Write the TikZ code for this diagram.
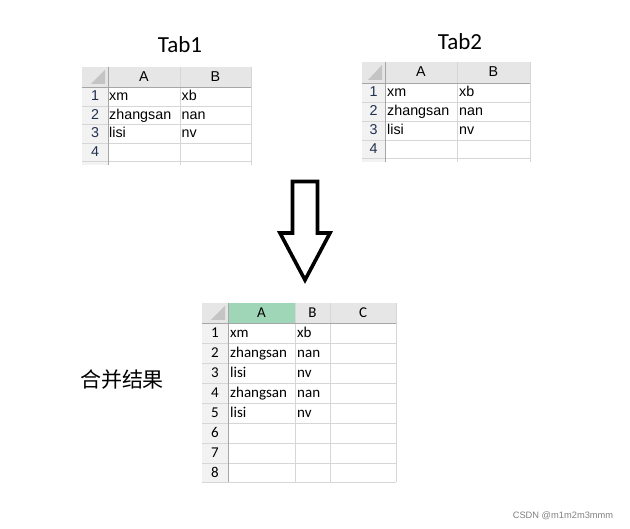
\documentclass[tikz,border=0pt]{standalone}
\usepackage{fontspec}
\setmainfont{Carlito}
\newfontfamily\cjkfont{Noto Sans CJK SC}
\newfontfamily\arialfont{Liberation Sans}
\definecolor{gridgray}{HTML}{D6D6D6}
\definecolor{headgray}{HTML}{E6E6E6}
\definecolor{sidegray}{HTML}{F2F2F2}
\definecolor{lingray}{HTML}{A6A6A6}
\definecolor{trigray}{HTML}{C4C4C4}
\definecolor{selgreen}{HTML}{A0D6B8}
\definecolor{numblue}{HTML}{203050}

\begin{document}
\begin{tikzpicture}[x=1pt,y=-1pt]
\tikzstyle{title}=[inner sep=0pt,font=\fontsize{23}{26}\selectfont]
\tikzstyle{cell}=[anchor=west,inner sep=0pt,yshift=-1.3pt,text height=1.5ex,text depth=.3ex,font=\arialfont\fontsize{14.3}{16}\selectfont]
\tikzstyle{cellb}=[anchor=west,inner sep=0pt,yshift=-1.3pt,text height=1.5ex,text depth=.3ex,font=\fontsize{15}{17}\selectfont]
\tikzstyle{head}=[inner sep=0pt,yshift=-1.3pt,text height=1.5ex,text depth=.3ex,font=\arialfont\fontsize{14.3}{16}\selectfont]
\tikzstyle{headb}=[inner sep=0pt,yshift=-1.3pt,text height=1.5ex,text depth=.3ex,font=\fontsize{15}{17}\selectfont]
\tikzstyle{grid}=[draw=gridgray,line width=0.8pt]
\tikzstyle{hline}=[draw=lingray,line width=0.8pt]
\useasboundingbox (0,0) rectangle (630,529);

% titles
\node[title] (tab1) at (180,45) {Tab1};
\node[title] (tab2) at (460,42) {Tab2};

% Tab1
\fill[headgray] (82,67) rectangle (251,87);
\fill[sidegray] (82,87) rectangle (108,165);
\fill[trigray] (105,70) -- (105,84) -- (91,84) -- cycle;
\foreach \y in {87,106,124.5,143,161.5} \draw[grid] (82,\y) -- (251,\y);
\foreach \x in {180,251} \draw[grid] (\x,67) -- (\x,165);
\draw[hline] (82,87) -- (251,87);
\draw[hline] (108,67) -- (108,165);
\node[head] (t1A) at (144,77) {A};
\node[head] (t1B) at (215.5,77) {B};
\foreach \n/\y in {1/96.5,2/115.25,3/133.75,4/152.25}
  \node[head,text=numblue] (t1r\n) at (95,\y) {\n};
\node[cell] (t1a1) at (109,96.5) {xm};
\node[cell] (t1b1) at (181.5,96.5) {xb};
\node[cell] (t1a2) at (109,115.25) {zhangsan};
\node[cell] (t1b2) at (181.5,115.25) {nan};
\node[cell] (t1a3) at (109,133.75) {lisi};
\node[cell] (t1b3) at (181.5,133.75) {nv};

% Tab2
\fill[headgray] (362,62) rectangle (530,83);
\fill[sidegray] (362,83) rectangle (385,162);
\fill[trigray] (382,65) -- (382,80) -- (368,80) -- cycle;
\foreach \y in {83,102,121,140,158} \draw[grid] (362,\y) -- (530,\y);
\foreach \x in {457,530} \draw[grid] (\x,62) -- (\x,162);
\draw[hline] (362,83) -- (530,83);
\draw[hline] (385,62) -- (385,162);
\node[head] (t2A) at (421,72.5) {A};
\node[head] (t2B) at (493.5,72.5) {B};
\foreach \n/\y in {1/92.5,2/111.5,3/130.5,4/149}
  \node[head,text=numblue] (t2r\n) at (373.5,\y) {\n};
\node[cell] (t2a1) at (387,92.5) {xm};
\node[cell] (t2b1) at (459,92.5) {xb};
\node[cell] (t2a2) at (387,111.5) {zhangsan};
\node[cell] (t2b2) at (459,111.5) {nan};
\node[cell] (t2a3) at (387,130.5) {lisi};
\node[cell] (t2b3) at (459,130.5) {nv};

% arrow
\draw[line width=3.6pt,line join=miter,fill=white]
  (292.5,181.5) -- (317.5,181.5) -- (317.5,233) -- (330,233) -- (305,280)
  -- (280,233) -- (292.5,233) -- cycle;

% result
\node[inner sep=0pt,font=\cjkfont\fontsize{21}{24}\selectfont] (merge) at (122,380) {合并结果};
\fill[headgray] (202,303) rectangle (396,323);
\fill[selgreen] (228,303) rectangle (295,323);
\fill[sidegray] (202,323) rectangle (228,482);
\fill[trigray] (225,306) -- (225,320) -- (211,320) -- cycle;
\foreach \y in {343,363,383,403,423,443,463,482} \draw[grid] (202,\y) -- (396,\y);
\foreach \x in {295,330,396} \draw[grid] (\x,303) -- (\x,482);
\draw[hline] (202,323) -- (396,323);
\draw[hline] (228,303) -- (228,482);
\node[headb] (t3A) at (261.5,313) {A};
\node[headb] (t3B) at (312.5,313) {B};
\node[headb] (t3C) at (363,313) {C};
\foreach \n in {1,...,8}
  \node[headb] (t3r\n) at (215,{313+20*\n}) {\n};
\node[cellb] (t3a1) at (230,333) {xm};
\node[cellb] (t3b1) at (297,333) {xb};
\node[cellb] (t3a2) at (230,353) {zhangsan};
\node[cellb] (t3b2) at (297,353) {nan};
\node[cellb] (t3a3) at (230,373) {lisi};
\node[cellb] (t3b3) at (297,373) {nv};
\node[cellb] (t3a4) at (230,393) {zhangsan};
\node[cellb] (t3b4) at (297,393) {nan};
\node[cellb] (t3a5) at (230,413) {lisi};
\node[cellb] (t3b5) at (297,413) {nv};

% watermark
\node[inner sep=0pt,text=gray,font=\arialfont\fontsize{9.3}{11}\selectfont] (mark) at (563,516) {CSDN @m1m2m3mmm};
\end{tikzpicture}
\end{document}
